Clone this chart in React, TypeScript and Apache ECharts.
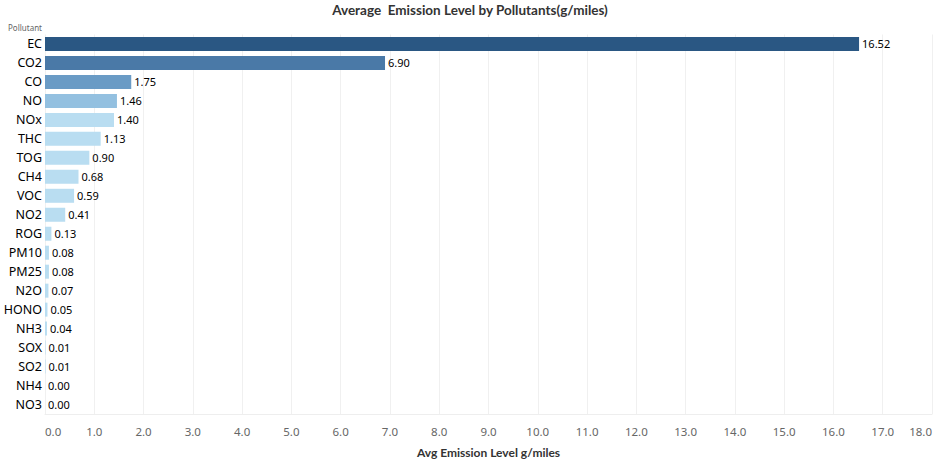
import React, { useEffect, useRef } from "react";
import * as echarts from "echarts";

const pollutants = ["EC", "CO2", "CO", "NO", "NOx", "THC", "TOG", "CH4", "VOC", "NO2", "ROG", "PM10", "PM25", "N2O", "HONO", "NH3", "SOX", "SO2", "NH4", "NO3"];
const avgEmission = [16.52, 6.9, 1.75, 1.46, 1.4, 1.13, 0.9, 0.68, 0.59, 0.41, 0.13, 0.08, 0.08, 0.07, 0.05, 0.04, 0.01, 0.01, 0.0, 0.0];
const barColors = ["#2a5783", "#4a79a7", "#6a9bc5", "#93c0e0", "#b9ddf1"];
const colorIndex = [0, 1, 2, 3, 4, 4, 4, 4, 4, 4, 4, 4, 4, 4, 4, 4, 4, 4, 4, 4];

export default function App() {
  const ref = useRef<HTMLDivElement>(null);
  useEffect(() => {
    if (!ref.current) return;
    const chart = echarts.init(ref.current, undefined, { renderer: "svg" });
    chart.setOption({
      animation: false,
      backgroundColor: "#ffffff",
      title: {
        text: "Average  Emission Level by Pollutants(g/miles)",
        left: "center",
        top: 3,
        padding: 0,
        textStyle: { fontFamily: "Lato", fontSize: 13.5, fontWeight: "bold", color: "#333333" },
      },
      graphic: [
        {
          type: "text",
          left: 8,
          top: 23,
          style: { text: "Pollutant", fontFamily: "Noto Sans", fontSize: 8, fill: "#666666" },
        },
      ],
      grid: { left: 45, right: 8, top: 34.5, bottom: 46.5, containLabel: false },
      xAxis: {
        type: "value",
        min: 0,
        max: 18,
        interval: 1,
        name: "Avg Emission Level g/miles",
        nameLocation: "middle",
        nameGap: 32,
        nameTextStyle: { fontFamily: "Lato", fontSize: 12, fontWeight: "bold", color: "#333333" },
        axisLine: { show: true, lineStyle: { color: "#eeeeee" } },
        axisTick: { show: false },
        splitLine: { show: true, lineStyle: { color: "#f0f0f0", width: 1 } },
        axisLabel: {
          formatter: (v: number) => v.toFixed(1),
          fontFamily: "Noto Sans",
          fontSize: 11.5,
          color: "#666666",
          margin: 11,
          alignMinLabel: "left",
          alignMaxLabel: "right",
        },
      },
      yAxis: {
        type: "category",
        data: pollutants,
        inverse: true,
        axisLine: { show: false },
        axisTick: { show: false },
        axisLabel: { fontFamily: "Noto Sans", fontSize: 12.5, color: "#000000", margin: 3 },
      },
      series: [
        {
          type: "bar",
          barWidth: 14,
          data: avgEmission.map((v, i) => ({
            value: v,
            itemStyle: { color: barColors[colorIndex[i]] },
          })),
          label: {
            show: true,
            position: "right",
            distance: 3,
            formatter: (p: any) => Number(p.value).toFixed(2),
            fontFamily: "Noto Sans",
            fontSize: 11,
            color: "#000000",
          },
        },
      ],
    });
    return () => chart.dispose();
  }, []);
  return <div ref={ref} style={{ position: "fixed", left: 0, top: 0, width: 940, height: 463 }} />;
}
